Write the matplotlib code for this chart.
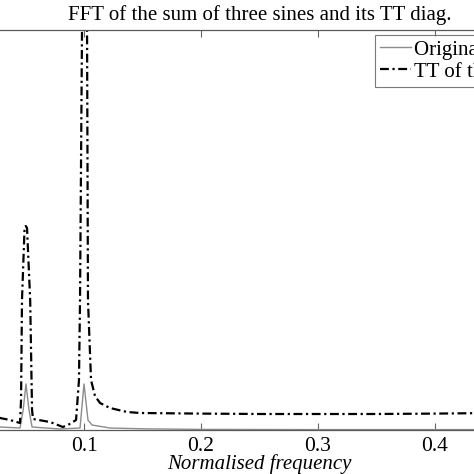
import matplotlib
matplotlib.use("Agg")
from matplotlib import pyplot as plt

# normalised frequency / magnitude
orig_f = [0.0, 0.0282, 0.0453, 0.048, 0.0504, 0.053, 0.0556, 0.0795, 0.0966,
          0.1, 0.1034, 0.1068, 0.1222, 0.15, 0.2, 0.3, 0.4, 0.5]
orig_v = [0.01, 0.0075, 0.005, 0.05, 0.115, 0.05, 0.0075, 0.0025, 0.005,
          0.115, 0.025, 0.0125, 0.005, 0.003, 0.0015, 0.001, 0.001, 0.001]

tt_f = [0.0, 0.0282, 0.0368, 0.0453, 0.0462, 0.047, 0.0492, 0.0502, 0.0513,
        0.054, 0.0556, 0.0564, 0.0709, 0.082, 0.0863, 0.0932, 0.0957, 0.0966,
        0.0983, 0.1, 0.1026, 0.1034, 0.106, 0.1094, 0.1137, 0.1222, 0.1368,
        0.148, 0.2, 0.25, 0.3, 0.35, 0.4, 0.45, 0.5]
tt_v = [0.09, 0.03, 0.025, 0.0175, 0.075, 0.325, 0.505, 0.51, 0.505,
        0.325, 0.05, 0.0275, 0.02, 0.0075, 0.0125, 0.025, 0.125, 0.325,
        1.0, 1.3, 1.0, 0.325, 0.125, 0.085, 0.0675, 0.055, 0.045,
        0.0425, 0.041, 0.04, 0.04, 0.04, 0.041, 0.0425, 0.045]

xticks = [0.1, 0.2, 0.3, 0.4]
xtick_labels = ["0.1", "0.2", "0.3", "0.4"]

plt.rcParams['font.family'] = ['Liberation Serif', 'DejaVu Serif']

fig = plt.figure(figsize=(4.74, 4.74), dpi=100)
W = 474
ax = fig.add_axes([-33 / W, 44 / W, 585 / W, 400 / W])

ax.plot(orig_f, orig_v, color='0.55', lw=1.0, label='Original signal')
ax.plot(tt_f, tt_v, color='black', lw=1.6, linestyle=(0, (4, 1.6, 1, 1.6)),
        label='TT of the diagonal')

ax.set_xlim(0, 0.5)
ax.set_ylim(0, 1)
ax.set_xticks(xticks)
ax.set_xticklabels(xtick_labels)
ax.set_yticks([])
ax.tick_params(axis='x', direction='in', top=True, length=5, width=0.8,
               color='0.4', labelsize=15.5, pad=5)
for sp in ax.spines.values():
    sp.set_color('0.35')
    sp.set_linewidth(0.9)

ax.set_title('FFT of the sum of three sines and its TT diag.', fontsize=15, pad=7)
ax.set_xlabel('Normalised frequency', fontsize=15, style='italic', labelpad=-1)

leg = ax.legend(loc='upper left', bbox_to_anchor=(375 / W, 1 - 35 / W),
                bbox_transform=fig.transFigure, fontsize=15, frameon=True,
                fancybox=False, handlelength=1.5, handletextpad=0.1,
                borderpad=0.25, labelspacing=0.1, borderaxespad=0)
leg.get_frame().set_edgecolor('0.35')
leg.get_frame().set_linewidth(0.8)

fig.savefig('out.png', dpi=100)
